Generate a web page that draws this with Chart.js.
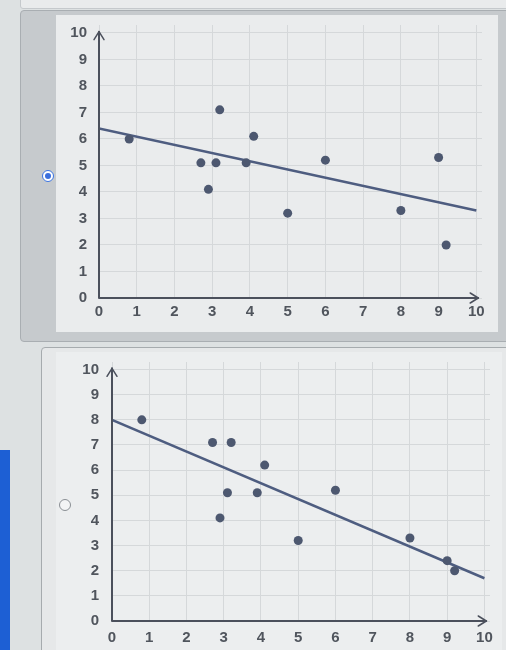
<!DOCTYPE html>
<html>
<head>
<meta charset="utf-8">
<script src="https://cdn.jsdelivr.net/npm/chart.js@4.4.1/dist/chart.umd.min.js"></script>
<style>
  html,body{margin:0;padding:0;}
  body{width:506px;height:650px;overflow:hidden;background:#dde1e2;position:relative;font-family:"Liberation Sans",Arial,sans-serif;}
  .prevcard{position:absolute;left:20px;top:-10px;width:500px;height:17px;background:#e9ebec;border:1px solid #c5c9cc;border-radius:3px;}
  .card1{position:absolute;left:20px;top:10px;width:492px;height:330px;background:#c6cacd;border:1px solid #a9aeb2;border-radius:4px;}
  .panel1{position:absolute;left:56px;top:15px;width:442px;height:317px;background:#eaeced;}
  .card2{position:absolute;left:41px;top:347px;width:470px;height:320px;background:#e6e8e9;border:1px solid #a6abae;border-radius:4px;}
  .panel2{position:absolute;left:56px;top:352px;width:446px;height:298px;background:#eceeef;}
  .radio1{position:absolute;left:42px;top:170px;width:10px;height:10px;border-radius:50%;border:1.5px solid #3b74e0;background:#fff;}
  .radio1::after{content:"";position:absolute;left:2px;top:2px;width:6px;height:6px;border-radius:50%;background:#3b6fdc;}
  .radio2{position:absolute;left:59px;top:499px;width:10px;height:10px;border-radius:50%;border:1.2px solid #8a8f94;background:#f3f4f5;}
  .blue{position:absolute;left:0;top:450px;width:10px;height:200px;background:#1d5fd4;}
  canvas{position:absolute;}
</style>
</head>
<body>
<div class="prevcard"></div>
<div class="card1"></div>
<div class="panel1"></div>
<div class="card2"></div>
<div class="panel2"></div>
<div class="blue"></div>
<div class="radio1"></div>
<div class="radio2"></div>
<div id="w1" style="position:absolute;left:58px;top:15px;width:438px;height:317px;"><canvas id="c1"></canvas></div>
<div id="w2" style="position:absolute;left:58px;top:352px;width:442px;height:298px;"><canvas id="c2"></canvas></div>
<script>
// ---- Data ----
const tickValues = [0,1,2,3,4,5,6,7,8,9,10];

const chart1X = [0.8, 2.7, 3.1, 2.9, 3.2, 3.9, 4.1, 5.0, 6.0, 8.0, 9.0, 9.2];
const chart1Y = [6.0, 5.1, 5.1, 4.1, 7.1, 5.1, 6.1, 3.2, 5.2, 3.3, 5.3, 2.0];
const line1X = [0, 10];
const line1Y = [6.4, 3.3];

const chart2X = [0.8, 2.7, 3.2, 4.1, 3.1, 3.9, 2.9, 5.0, 6.0, 8.0, 9.0, 9.2];
const chart2Y = [8.0, 7.1, 7.1, 6.2, 5.1, 5.1, 4.1, 3.2, 5.2, 3.3, 2.4, 2.0];
const line2X = [0, 10];
const line2Y = [8.0, 1.7];

const pointColor = '#4d5870';
const lineColor = '#4e5d80';
const axisColor = '#4b505c';

const toPts = (xs, ys) => xs.map((x, i) => ({x: x, y: ys[i]}));

const arrowAxes = {
  id: 'arrowAxes',
  afterDatasetsDraw(chart) {
    const {ctx, scales: {x, y}} = chart;
    const x0 = x.getPixelForValue(0), y0 = y.getPixelForValue(0);
    const xEnd = x.getPixelForValue(10.05), yEnd = y.getPixelForValue(10.05);
    ctx.save();
    ctx.strokeStyle = axisColor;
    ctx.lineWidth = 2;
    ctx.lineCap = 'round';
    ctx.lineJoin = 'round';
    ctx.beginPath();
    ctx.moveTo(x0, y0); ctx.lineTo(xEnd, y0);
    ctx.moveTo(x0, y0); ctx.lineTo(x0, yEnd);
    ctx.stroke();
    ctx.lineWidth = 1.5;
    ctx.beginPath();
    ctx.moveTo(xEnd - 8, y0 - 5); ctx.lineTo(xEnd, y0); ctx.lineTo(xEnd - 8, y0 + 5);
    ctx.moveTo(x0 - 5, yEnd + 8); ctx.lineTo(x0, yEnd); ctx.lineTo(x0 + 5, yEnd + 8);
    ctx.stroke();
    ctx.restore();
  }
};

function makeChart(id, xs, ys, lx, ly, yWidth, yPad, xHeight, xPad, padding) {
  return new Chart(document.getElementById(id), {
    type: 'scatter',
    data: {
      datasets: [
        {
          data: toPts(lx, ly),
          showLine: true,
          borderColor: lineColor,
          borderWidth: 2.5,
          pointRadius: 0,
          fill: false,
          order: 2
        },
        {
          data: toPts(xs, ys),
          backgroundColor: pointColor,
          borderColor: pointColor,
          pointRadius: 4.5,
          pointBorderWidth: 0,
          order: 1
        }
      ]
    },
    options: {
      responsive: true,
      maintainAspectRatio: false,
      animation: false,
      layout: {padding: padding},
      plugins: {legend: {display: false}, tooltip: {enabled: false}},
      scales: {
        x: {
          type: 'linear', min: 0, max: 10.15,
          afterFit(s) { s.height = xHeight; s.paddingLeft = 0; s.paddingRight = 0; },
          afterBuildTicks(s) { s.ticks = tickValues.map(v => ({value: v})); },
          grid: {color: '#d5d8da', lineWidth: 1, drawTicks: false},
          border: {display: false},
          ticks: {padding: xPad, color: '#50555d', font: {family: 'Liberation Sans', size: 15, weight: 'bold'}, maxRotation: 0, autoSkip: false}
        },
        y: {
          type: 'linear', min: 0, max: 10.3,
          afterFit(s) { s.width = yWidth; s.paddingTop = 0; s.paddingBottom = 0; },
          afterBuildTicks(s) { s.ticks = tickValues.map(v => ({value: v})); },
          grid: {color: '#d5d8da', lineWidth: 1, drawTicks: false},
          border: {display: false},
          ticks: {padding: yPad, color: '#50555d', font: {family: 'Liberation Sans', size: 15, weight: 'bold'}, autoSkip: false}
        }
      }
    },
    plugins: [arrowAxes]
  });
}

makeChart('c1', chart1X, chart1Y, line1X, line1Y, 41, 12, 34, 5, {left: 0, right: 14, top: 10, bottom: 0});
makeChart('c2', chart2X, chart2Y, line2X, line2Y, 54, 13, 29, 8, {left: 0, right: 10, top: 10, bottom: 0});
</script>
</body>
</html>
